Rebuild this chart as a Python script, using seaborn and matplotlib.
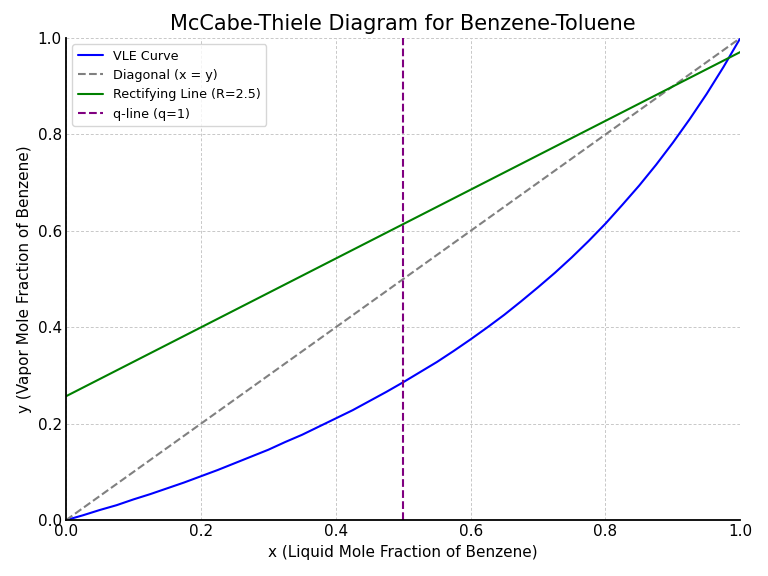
import numpy as np
import pandas as pd
import seaborn as sns
import matplotlib.pyplot as plt

# Data
x_liquid = [0.0, 0.025, 0.05, 0.075, 0.1, 0.125, 0.15, 0.175, 0.2, 0.225,
            0.25, 0.275, 0.3, 0.325, 0.35, 0.375, 0.4, 0.425, 0.45, 0.475,
            0.5, 0.525, 0.55, 0.575, 0.6, 0.625, 0.65, 0.675, 0.7, 0.725,
            0.75, 0.775, 0.8, 0.825, 0.85, 0.875, 0.9, 0.925, 0.95, 0.975, 1.0]
y_vle = [0.0, 0.010, 0.021, 0.031, 0.043, 0.054, 0.066, 0.078, 0.091, 0.104,
         0.118, 0.132, 0.146, 0.162, 0.177, 0.194, 0.211, 0.228, 0.247, 0.266,
         0.286, 0.307, 0.328, 0.351, 0.375, 0.400, 0.426, 0.454, 0.483, 0.513,
         0.545, 0.579, 0.615, 0.654, 0.694, 0.737, 0.783, 0.832, 0.884, 0.940, 1.0]
x_diag = [0.0, 1.0]
y_diag = [0.0, 1.0]
x_rect = [0.0, 1.0]
y_rect = [0.257, 0.971]
x_q = [0.5, 0.5]
y_q = [0.0, 1.0]

sns.set_style("white")
plt.rcParams['font.family'] = ['DejaVu Sans']
plt.rcParams['text.color'] = 'black'
plt.rcParams['axes.labelcolor'] = 'black'
plt.rcParams['xtick.color'] = 'black'
plt.rcParams['ytick.color'] = 'black'

fig, ax = plt.subplots(figsize=(7.68, 5.76), dpi=100)

sns.lineplot(x=x_liquid, y=y_vle, color='blue', linewidth=1.5, label='VLE Curve', ax=ax, estimator=None, sort=False)
sns.lineplot(x=x_diag, y=y_diag, color='gray', linestyle='--', linewidth=1.5, label='Diagonal (x = y)', ax=ax, estimator=None)
sns.lineplot(x=x_rect, y=y_rect, color='green', linewidth=1.5, label='Rectifying Line (R=2.5)', ax=ax, estimator=None)
sns.lineplot(x=x_q, y=y_q, color='purple', linestyle='--', linewidth=1.5, label='q-line (q=1)', ax=ax, estimator=None, sort=False)

ax.set_xlim(0, 1)
ax.set_ylim(0, 1)
ax.set_title('McCabe-Thiele Diagram for Benzene-Toluene', fontsize=15, color='black')
ax.set_xlabel('x (Liquid Mole Fraction of Benzene)', fontsize=11)
ax.set_ylabel('y (Vapor Mole Fraction of Benzene)', fontsize=11)
ax.tick_params(labelsize=11, length=0, pad=3)
ax.grid(True, linestyle=(0, (3, 2)), color='#c8c8c8', linewidth=0.7)
sns.despine(ax=ax)
for s in ['left', 'bottom']:
    ax.spines[s].set_color('black')
    ax.spines[s].set_linewidth(1.3)
ax.legend(loc='upper left', fontsize=9.2)

fig.subplots_adjust(left=0.086, right=0.964, top=0.934, bottom=0.097)
fig.savefig('out.png', dpi=100)
